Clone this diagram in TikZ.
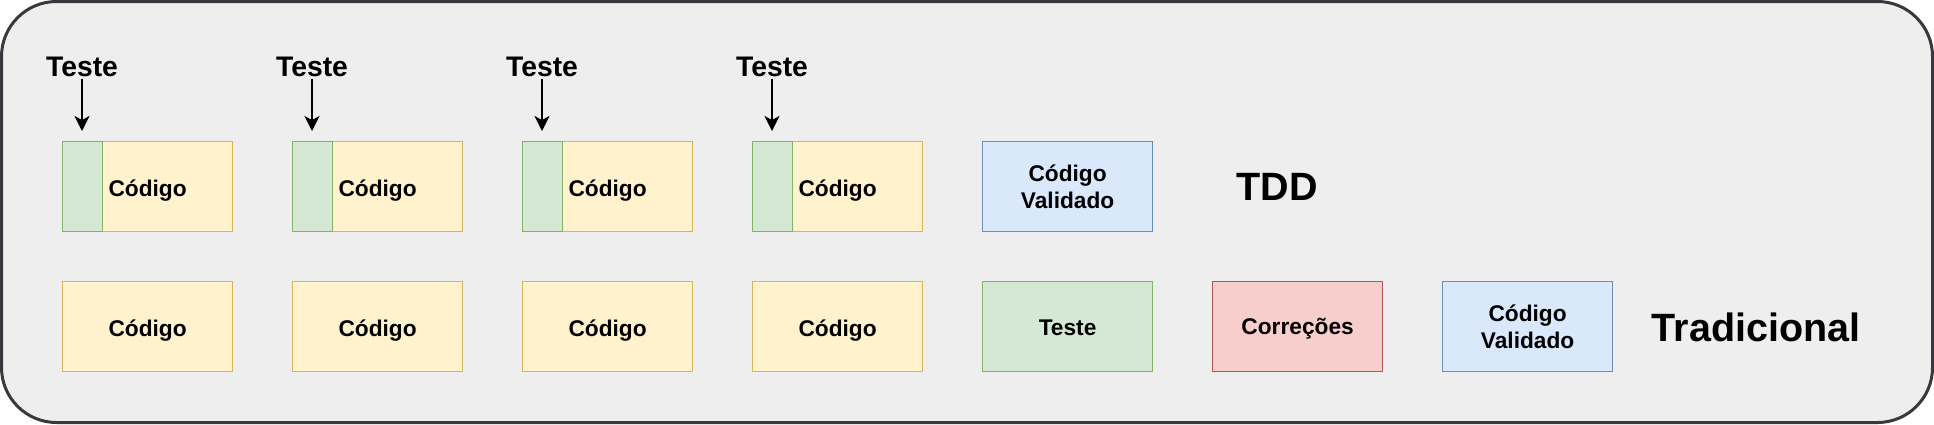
\documentclass[tikz,border=0pt]{standalone}
\usepackage{fontspec}
\setmainfont{Liberation Sans}
\usetikzlibrary{arrows.meta}
\definecolor{bgfill}{HTML}{EEEEEE}
\definecolor{bgline}{HTML}{36393D}
\definecolor{ylwfill}{HTML}{FFF2CC}
\definecolor{ylwline}{HTML}{D6B656}
\definecolor{grnfill}{HTML}{D5E8D4}
\definecolor{grnline}{HTML}{82B366}
\definecolor{blufill}{HTML}{DAE8FC}
\definecolor{bluline}{HTML}{6C8EBF}
\definecolor{redfill}{HTML}{F8CECC}
\definecolor{redline}{HTML}{B85450}
\newcommand\dn[1]{\raisebox{-3.5pt}[\height][\depth]{#1}}
\begin{document}
\begin{tikzpicture}[x=1pt,y=-1pt,
  box/.style={draw, line width=1.2pt, minimum width=170pt, minimum height=90pt, inner sep=0pt,
    anchor=north west, align=center, font=\bfseries\fontsize{22.7}{27}\selectfont},
  codebox/.style={box, draw=ylwline, fill=ylwfill},
  testbox/.style={box, draw=grnline, fill=grnfill},
  okbox/.style={box, draw=bluline, fill=blufill},
  fixbox/.style={box, draw=redline, fill=redfill},
  strip/.style={draw=grnline, fill=grnfill, line width=1.2pt, minimum width=40pt, minimum height=90pt,
    inner sep=0pt, anchor=north west},
  lbl/.style={inner sep=2pt, font=\bfseries\fontsize{28.3}{34}\selectfont},
  title/.style={inner sep=0pt, font=\bfseries\fontsize{39.5}{47}\selectfont},
  arr/.style={line width=2pt, -{Stealth[length=15pt,width=15pt,inset=4pt]}}]
\useasboundingbox (0,0) rectangle (1934,424);
\draw[line width=3pt, draw=bgline, fill=bgfill, rounded corners=55pt] (1.5,1.5) rectangle (1932.5,422.5);
\foreach \i [evaluate=\i as \x using 62+230*(\i-1)] in {1,...,4}{
  \node[codebox] (c\i) at (\x,141) {\dn{Código}};
  \node[strip] (g\i) at (\x,141) {};
  \node[lbl] (t\i) at (\x+20,66.5) {Teste};
  \coordinate (a\i) at (\x+20,131);
  \draw[arr] (t\i.south) -- (a\i);
  \node[codebox] (r\i) at (\x,281) {\dn{Código}};
}
\node[okbox] (c5) at (982,141) {Código\\Validado};
\node[title] (tdd) at (1277,187) {TDD};
\node[testbox] (r5) at (982,281) {\raisebox{-1.5pt}[\height][\depth]{Teste}};
\node[fixbox] (r6) at (1212,281) {\raisebox{-2.5pt}[\height][\depth]{Correções}};
\node[okbox] (r7) at (1442,281) {Código\\Validado};
\node[title] (trad) at (1756,327) {Tradicional};
\end{tikzpicture}
\end{document}
